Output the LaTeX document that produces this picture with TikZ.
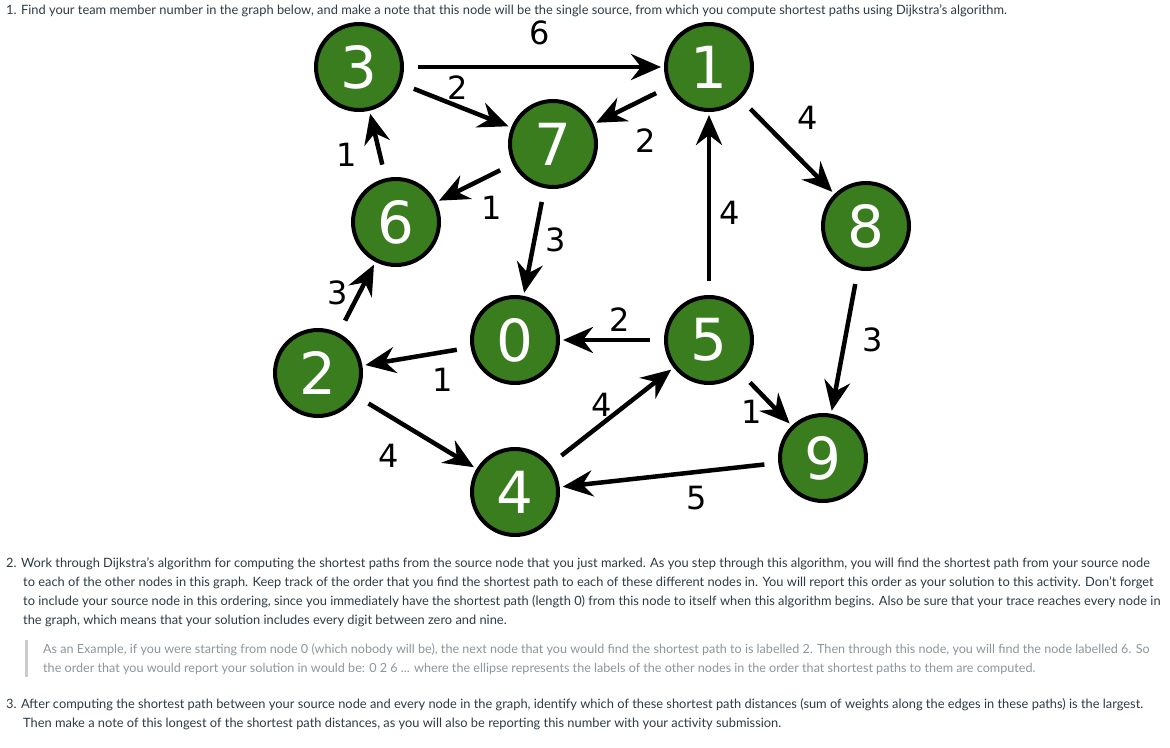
\documentclass[tikz,border=0pt]{standalone}
\usepackage{fontspec}
\setmainfont{Lato}
\newfontfamily\djvfont{DejaVu Sans}
\usetikzlibrary{arrows.meta}
\definecolor{ng}{HTML}{3A7D1E}
\definecolor{tx}{HTML}{2D3B45}
\definecolor{gr}{HTML}{8B969E}
\begin{document}
\begin{tikzpicture}[x=1pt,y=-1pt,
 vtx/.style={circle,draw=black,line width=4pt,fill=ng,text=white,minimum size=86pt,inner sep=0pt,font=\djvfont\fontsize{58}{58}\selectfont},
 edg/.style={line width=4.5pt,-{Stealth[length=30pt,width=26pt,inset=10pt]},shorten <=14pt,shorten >=3pt},
 wl/.style={font=\djvfont\fontsize{32}{32}\selectfont,inner sep=0pt},
 tl/.style={anchor=base west,inner sep=0pt,text=tx,font=\fontsize{12.85}{16}\selectfont},
 gl/.style={tl,text=gr,font=\fontsize{12.6}{16}\selectfont}]
\useasboundingbox (0,0) rectangle (1170,747);
\fill[white] (0,0) rectangle (1170,747);
\node[tl] (t1) at (6,14) {1. Find your team member number in the graph below, and make a note that this node will be the single source, from which you compute shortest paths using Dijkstra's algorithm.};
\node[vtx] (n3) at (359,67) {3};
\node[vtx] (n1) at (709,67) {1};
\node[vtx] (n7) at (553,144) {7};
\node[vtx] (n6) at (396,222) {6};
\node[vtx] (n8) at (866,226) {8};
\node[vtx] (n0) at (515,340) {0};
\node[vtx] (n5) at (709,340) {5};
\node[vtx] (n2) at (318,373) {2};
\node[vtx] (n9) at (823,458) {9};
\node[vtx] (n4) at (515,492) {4};
\draw[edg] (n3) -- (n1);
\draw[edg] (n3) -- (n7);
\draw[edg] (n1) -- (n7);
\draw[edg] (n6) -- (n3);
\draw[edg] (n7) -- (n6);
\draw[edg] (n7) -- (n0);
\draw[edg] (n1) -- (n8);
\draw[edg] (n5) -- (n1);
\draw[edg] (n8) -- (n9);
\draw[edg] (n2) -- (n6);
\draw[edg] (n0) -- (n2);
\draw[edg] (n5) -- (n0);
\draw[edg] (n2) -- (n4);
\draw[edg] (n4) -- (n5);
\draw[edg] (n5) -- (n9);
\draw[edg] (n9) -- (n4);
\node[wl] (w31) at (540,33) {6};
\node[wl] (w37) at (458,88) {2};
\node[wl] (w17) at (646,141) {2};
\node[wl] (w63) at (347,155) {1};
\node[wl] (w76) at (492,208) {1};
\node[wl] (w70) at (556,240) {3};
\node[wl] (w18) at (808,118) {4};
\node[wl] (w51) at (730,213) {4};
\node[wl] (w89) at (873,340) {3};
\node[wl] (w26) at (338,293) {3};
\node[wl] (w02) at (443,380) {1};
\node[wl] (w50) at (620,320) {2};
\node[wl] (w24) at (389,456) {4};
\node[wl] (w45) at (602,405) {4};
\node[wl] (w59) at (752,412) {1};
\node[wl] (w94) at (697,498) {5};
\node[tl] (p1) at (6,567) {2. Work through Dijkstra's algorithm for computing the shortest paths from the source node that you just marked. As you step through this algorithm, you will find the shortest path from your source node};
\node[tl] (p2) at (23,586) {to each of the other nodes in this graph. Keep track of the order that you find the shortest path to each of these different nodes in. You will report this order as your solution to this activity. Don't forget};
\node[tl] (p3) at (23,605) {to include your source node in this ordering, since you immediately have the shortest path (length 0) from this node to itself when this algorithm begins. Also be sure that your trace reaches every node in};
\node[tl] (p4) at (23,624) {the graph, which means that your solution includes every digit between zero and nine.};
\fill[gray!40] (25,640) rectangle (28,677);
\node[gl] (q1) at (43,653) {As an Example, if you were starting from node 0 (which nobody will be), the next node that you would find the shortest path to is labelled 2. Then through this node, you will find the node labelled 6. So};
\node[gl] (q2) at (43,672) {the order that you would report your solution in would be: 0 2 6 ... where the ellipse represents the labels of the other nodes in the order that shortest paths to them are computed.};
\node[tl] (r1) at (6,708) {3. After computing the shortest path between your source node and every node in the graph, identify which of these shortest path distances (sum of weights along the edges in these paths) is the largest.};
\node[tl] (r2) at (23,727) {Then make a note of this longest of the shortest path distances, as you will also be reporting this number with your activity submission.};
\end{tikzpicture}
\end{document}
